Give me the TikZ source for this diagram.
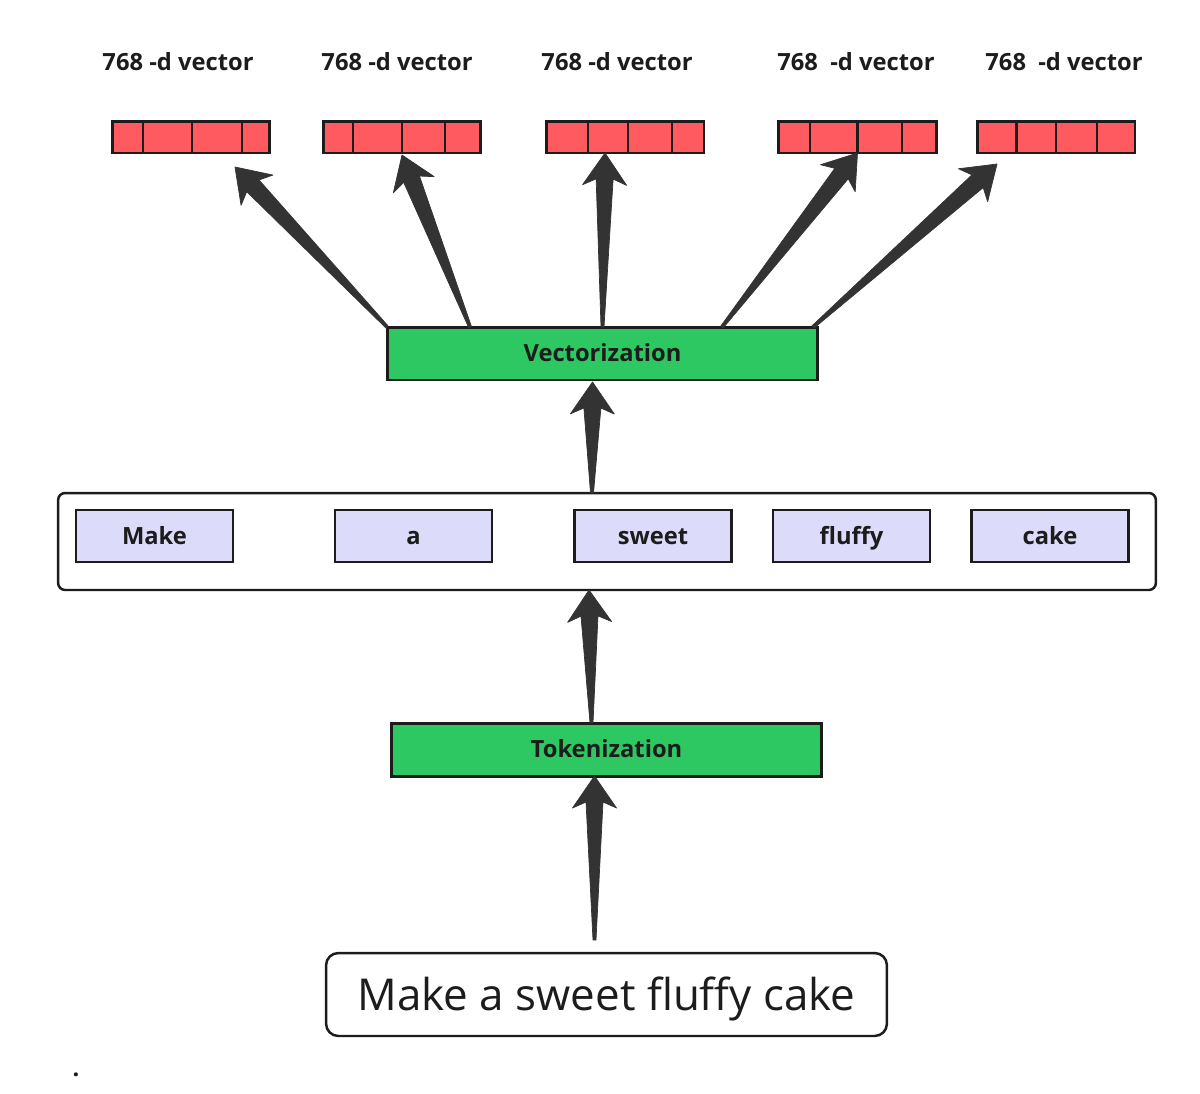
\documentclass[tikz,border=0pt]{standalone}
\usepackage{fontspec}
\setmainfont{Open Sans}
\usepackage{tikz}
\usetikzlibrary{arrows.meta, positioning, calc}
\usepackage{xcolor}

\definecolor{vecred}{HTML}{FF5A5F}
\definecolor{stepgreen}{HTML}{2DC862}
\definecolor{wordlav}{HTML}{DDDBFA}
\definecolor{inkdark}{HTML}{1C1C1C}
\definecolor{arrowgray}{HTML}{333333}

% tapered arrow, thin at the start and wide at the head
\newcommand{\taper}[2]{%
  \coordinate (ta) at (#1);
  \coordinate (tb) at (#2);
  \coordinate (hb) at ($(tb)!0.52cm!(ta)$);
  \coordinate (hc) at ($(tb)!0.64cm!(ta)$);
  \fill[arrowgray, draw=arrowgray, line width=0.4pt, line join=round]
    ($(ta)!0.03cm!90:(tb)$) -- ($(hb)!0.17cm!90:(tb)$)
    -- ($(hc)!0.44cm!90:(tb)$) -- (tb)
    -- ($(hc)!0.44cm!-90:(tb)$) -- ($(hb)!0.17cm!-90:(tb)$)
    -- ($(ta)!0.03cm!-90:(tb)$) -- cycle;
}

\begin{document}
\begin{tikzpicture}[
  x=0.02cm, y=-0.02cm,
  lbl/.style    = {font=\fontsize{13.5}{16}\selectfont\bfseries, text=inkdark,
                   text height=9.6pt, text depth=0pt},
  vecbox/.style = {draw=inkdark, fill=vecred, line width=1.7pt,
                   minimum width=3.16cm, minimum height=0.64cm,
                   inner sep=0pt, outer sep=0pt},
  stepbox/.style= {draw=inkdark, fill=stepgreen, line width=1.7pt,
                   minimum width=8.62cm, minimum height=1.06cm,
                   inner sep=0pt, outer sep=0pt, lbl},
  word/.style   = {draw=inkdark, fill=wordlav, line width=1.4pt,
                   minimum width=3.14cm, minimum height=1.04cm,
                   inner sep=0pt, outer sep=0pt, lbl},
  frame/.style  = {draw=inkdark, line width=1.4pt, rounded corners=4pt,
                   inner sep=0pt, outer sep=0pt}
]
\useasboundingbox (0,0) rectangle (1200,1093);
% labels above
\node[lbl] (l1) at (178,62) {768 -d vector};
\node[lbl] (l2) at (397,62) {768 -d vector};
\node[lbl] (l3) at (617,62) {768 -d vector};
\node[lbl] (l4) at (856,62) {768~ -d vector};
\node[lbl] (l5) at (1064,62) {768~ -d vector};
% vectors
\node[vecbox] (v1) at (191,137) {};
\node[vecbox] (v2) at (402,137) {};
\node[vecbox] (v3) at (625,137) {};
\node[vecbox] (v4) at (857.5,137) {};
\node[vecbox] (v5) at (1056,137) {};
\foreach \v/\fs in {v1/{0.196,0.506,0.823}, v2/{0.19,0.5,0.77},
                    v3/{0.266,0.519,0.797}, v4/{0.2,0.5,0.78},
                    v5/{0.25,0.5,0.76}}
  \foreach \f in \fs
    \draw[inkdark, line width=1.2pt]
      ($(\v.south west)!\f!(\v.south east)$)
      -- ($(\v.north west)!\f!(\v.north east)$);
% steps
\node[stepbox] (vec) at (602.5,353.5) {Vectorization};
\node[stepbox] (tok) at (606.5,749.5) {Tokenization};
% tokens
\node[frame, minimum width=21.96cm, minimum height=1.94cm]
  (tokens) at (607,541.5) {};
\node[word] (w1) at (154.5,536) {Make};
\node[word] (w2) at (413.5,536) {a};
\node[word] (w3) at (653,536) {sweet};
\node[word] (w4) at (851.5,536) {fluffy};
\node[word] (w5) at (1050,536) {cake};
% input sentence
\node[frame, rounded corners=7pt, minimum width=11.22cm,
      minimum height=1.66cm, font=\fontsize{25}{30}\selectfont,
      text height=17.9pt, text depth=0pt,
      text=inkdark] (input) at (606.5,994.5) {Make a sweet fluffy cake};
\node[lbl, anchor=base] (dot) at (76,1076) {.};
% arrows
\taper{vec.north west}{$(v1.south east)+(-35,14)$}
\taper{$(vec.north west)+(83,0)$}{$(v2.south)+(0,2)$}
\taper{vec.north}{$(v3.south)+(-20,0)$}
\taper{$(vec.north east)+(-96,0)$}{v4.south}
\taper{$(vec.north east)+(-5,0)$}{$(v5.south west)+(20,11)$}
\taper{$(tokens.north)+(-15,0)$}{$(vec.south)+(-10,2)$}
\taper{$(tok.north)+(-15,0)$}{$(tokens.south)+(-18,0)$}
\taper{$(input.north)+(-12,-13)$}{$(tok.south)+(-12,0)$}
\end{tikzpicture}
\end{document}
